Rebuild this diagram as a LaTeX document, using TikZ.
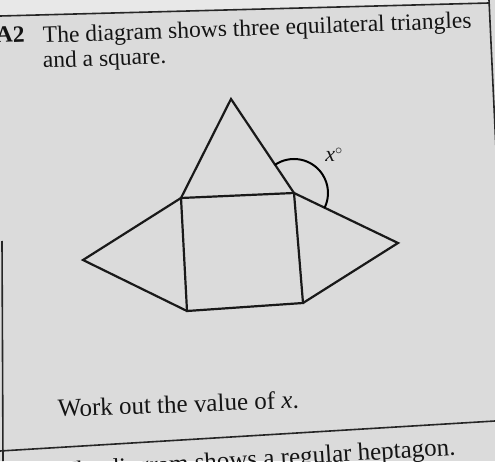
\documentclass[tikz,border=0pt]{standalone}
\usepackage{fontspec}
\setmainfont{Liberation Serif}
\usetikzlibrary{calc}
\begin{document}
\begin{tikzpicture}[x=1pt,y=1pt,
  fig/.style={line width=2.2pt,line join=miter,draw=black!90},
  frame/.style={line width=1.6pt,draw=black!85},
  txt/.style={inner sep=0pt,font=\fontsize{23.5}{26}\selectfont,text=black!92},
  bigtxt/.style={inner sep=0pt,font=\fontsize{25}{28}\selectfont,text=black!92}]
\useasboundingbox (0,0) rectangle (495,461);
\clip (0,0) rectangle (495,461);
\fill[gray!28] (0,0) rectangle (495,461);
\fill[gray!18] (0,461) -- (0,445) -- (488,458) -- (488,461) -- cycle;
% frame lines
\coordinate (ft1) at (0,445);
\coordinate (ft2) at (489,458);
\coordinate (fr1) at (489,461);
\coordinate (fr2) at (497,290);
\coordinate (fb1) at (0,10);
\coordinate (fb2) at (495,40);
\coordinate (fl1) at (3,0);
\coordinate (fl2) at (2,220);
\draw[frame] (ft1) -- (ft2);
\draw[frame] (fr1) -- (fr2);
\draw[frame] (fb1) -- (fb2);
\draw[frame] (fl1) -- (fl2);
% texts
\node[txt,anchor=base west,rotate=2,font=\fontsize{23.5}{26}\selectfont\bfseries] (lbl) at (-4,418) {A2};
\node[txt,anchor=base west,rotate=2] (t1) at (43,418) {The diagram shows three equilateral triangles};
\node[txt,anchor=base west,rotate=2] (t2) at (43,393) {and a square.};
\node[bigtxt,anchor=base west,rotate=2.1] (t3) at (58,44) {Work out the value of \textit{x}.};
\node[bigtxt,anchor=base east,rotate=3.5] (t4) at (456,6) {The diagram shows a regular heptagon.};
% figure
\coordinate (A) at (231,362);
\coordinate (TL) at (181,263);
\coordinate (TR) at (294,268);
\coordinate (BL) at (187,150);
\coordinate (BR) at (303,158);
\coordinate (L) at (83,201);
\coordinate (R) at (398,218);
\draw[fig] (TL) -- (A) -- (TR);
\draw[fig] (TL) -- (TR) -- (BR) -- (BL) -- cycle;
\draw[fig] (TL) -- (L) -- (BL);
\draw[fig] (TR) -- (R) -- (BR);
\coordinate (arcstart) at ($(TR)+(124:34)$);
\draw[line width=2pt] (arcstart) arc[start angle=124,end angle=-26,radius=34];
\node[txt,font=\fontsize{22}{24}\selectfont] (xl) at (334,306) {\textit{x}$^{\circ}$};
\end{tikzpicture}
\end{document}
